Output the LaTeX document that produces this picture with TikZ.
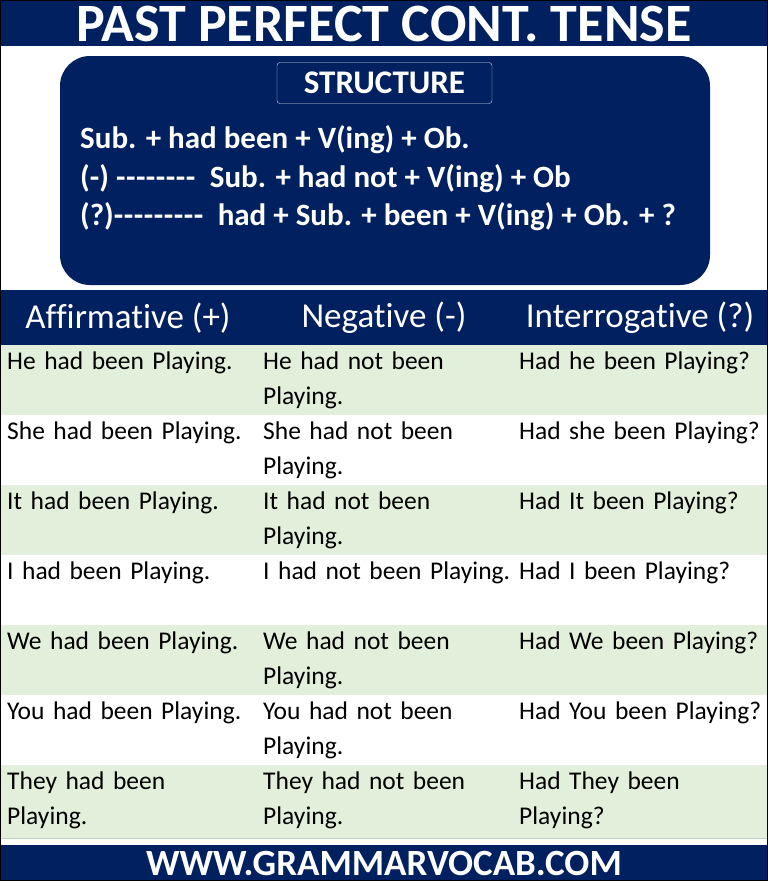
\documentclass[tikz,border=0pt]{standalone}
\usepackage{fontspec}
\setmainfont[Ligatures=NoCommon]{Carlito}
\definecolor{navy}{HTML}{002060}
\definecolor{lgreen}{HTML}{E2EFDA}
\newcommand{\dsh}[1]{\foreach \k in {1,...,#1}{-\kern0.5pt}}
\begin{document}
\begin{tikzpicture}[x=1pt,y=-1pt,
  cell/.style={anchor=north west,inner sep=0pt,font=\fontsize{25.5}{35}\selectfont,text width=255pt,align=left},
  hd/.style={text=white,font=\fontsize{35}{40}\selectfont,anchor=center},
  st/.style={text=white,anchor=west,inner sep=0pt,font=\bfseries\fontsize{31}{34}\selectfont}]
\useasboundingbox (0,0) rectangle (768,881);
\fill[white] (0,0) rectangle (768,881);
\fill[navy] (0,0) rectangle (768,46);
\node[text=white,font=\bfseries\fontsize{54}{58}\selectfont] (title) at (384,24) {PAST PERFECT CONT. TENSE};
\fill[navy,rounded corners=30pt] (60,56) rectangle (710,285);
\node[draw=white!85!navy,rounded corners=3pt,text=white,font=\bfseries\fontsize{33}{36}\selectfont,minimum width=215pt,minimum height=41pt] (struct) at (384.5,83) {STRUCTURE};
\node[st] (l1) at (80,140) {Sub. + had been + V(ing) + Ob.};
\node[st] (l2) at (80,179) {(-) \dsh{8} \ Sub. + had not + V(ing) + Ob};
\node[st] (l3) at (80,217) {(?)\dsh{9} \ had + Sub. + been + V(ing) + Ob. + ?};
\fill[navy] (0,290) rectangle (768,345);
\node[hd] (h1) at (128,318) {Affirmative (+)};
\node[hd] (h2) at (384,318) {Negative (-)};
\node[hd] (h3) at (640,318) {Interrogative (?)};
\foreach \i/\c in {0/lgreen,1/white,2/lgreen,3/white,4/lgreen,5/white,6/lgreen}
  \fill[\c] (0,345+70*\i) rectangle (768,415+70*\i);
\fill[lgreen] (0,835) rectangle (768,838);
\draw[lgreen!70!green!60!black!40,line width=1pt] (0,838.5) -- (768,838.5);
\node[cell] (a1) at (7,352) {He had been Playing.};
\node[cell] (b1) at (263,352) {He had not been\\Playing.};
\node[cell] (c1) at (519,352) {Had he been Playing?};
\node[cell] (a2) at (7,422) {She had been Playing.};
\node[cell] (b2) at (263,422) {She had not been\\Playing.};
\node[cell] (c2) at (519,422) {Had she been Playing?};
\node[cell] (a3) at (7,492) {It had been Playing.};
\node[cell] (b3) at (263,492) {It had not been\\Playing.};
\node[cell] (c3) at (519,492) {Had It been Playing?};
\node[cell] (a4) at (7,562) {I had been Playing.};
\node[cell] (b4) at (263,562) {I had not been Playing.};
\node[cell] (c4) at (519,562) {Had I been Playing?};
\node[cell] (a5) at (7,632) {We had been Playing.};
\node[cell] (b5) at (263,632) {We had not been\\Playing.};
\node[cell] (c5) at (519,632) {Had We been Playing?};
\node[cell] (a6) at (7,702) {You had been Playing.};
\node[cell] (b6) at (263,702) {You had not been\\Playing.};
\node[cell] (c6) at (519,702) {Had You been Playing?};
\node[cell] (a7) at (7,772) {They had been\\Playing.};
\node[cell] (b7) at (263,772) {They had not been\\Playing.};
\node[cell] (c7) at (519,772) {Had They been\\Playing?};
\fill[navy] (0,845) rectangle (768,881);
\node[text=white,font=\bfseries\fontsize{37}{40}\selectfont,inner sep=0pt] (foot) at (384,863) {WWW.GRAMMARVOCAB.COM};
\draw[black,line width=1.5pt] (0,0) rectangle (768,881);
\end{tikzpicture}
\end{document}
